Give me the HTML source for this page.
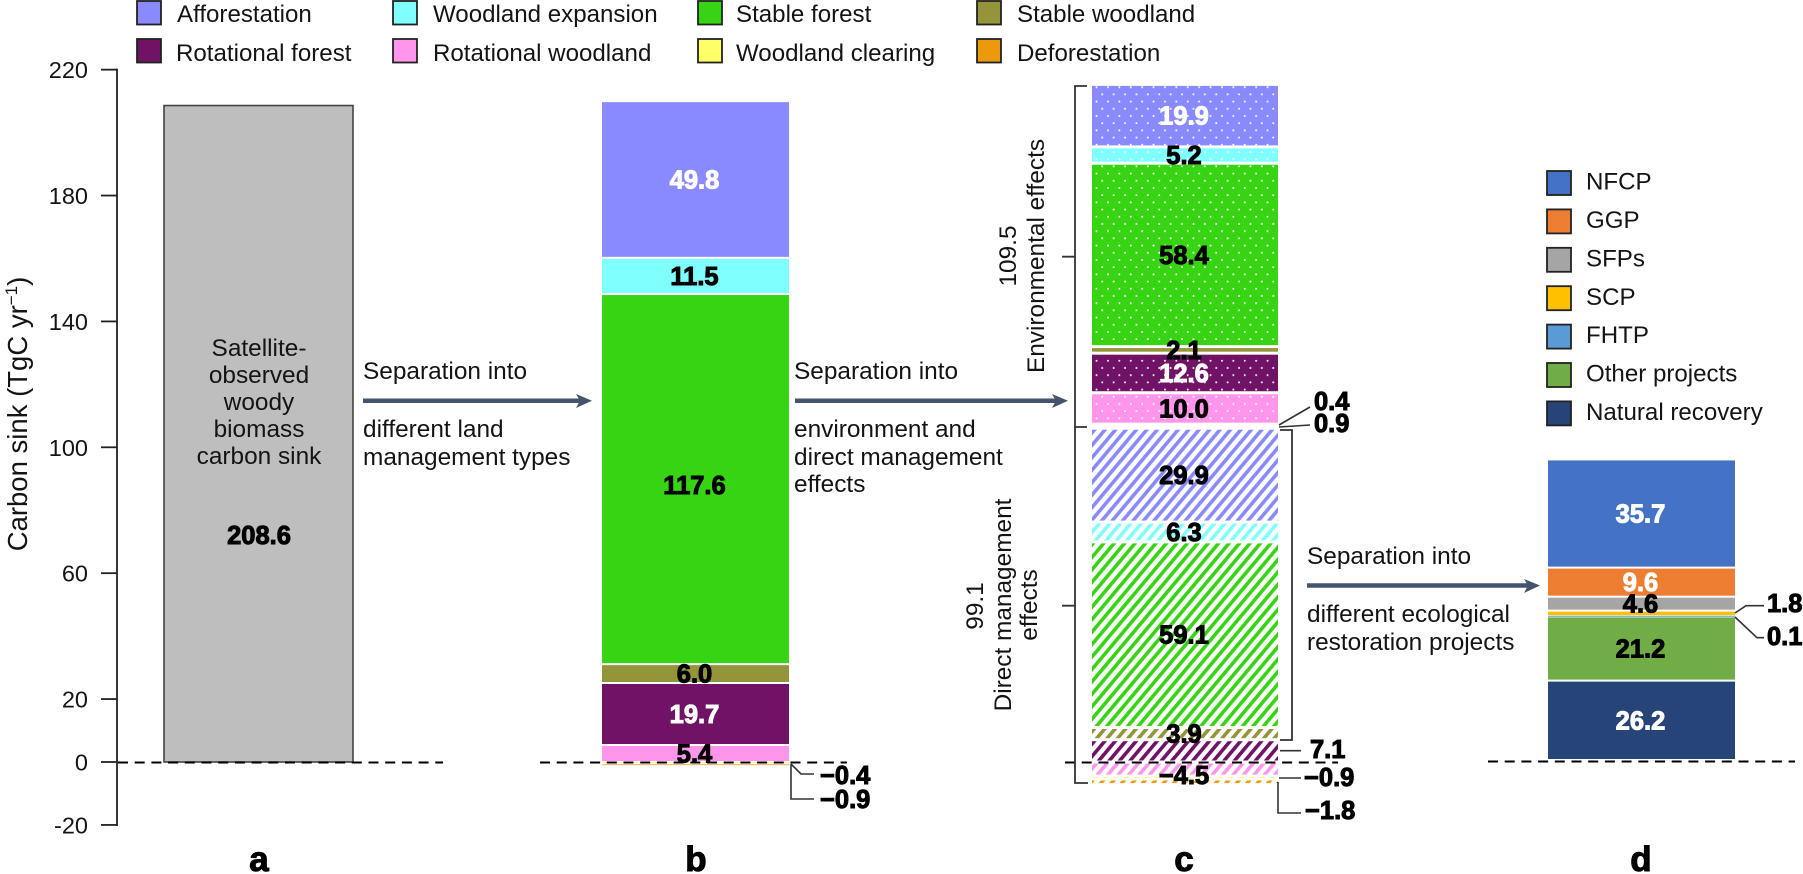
<!DOCTYPE html>
<html lang="en">
<head>
<meta charset="utf-8">
<title>Carbon sink separation chart</title>
<style>
html,body{margin:0;padding:0;background:#fff;width:1803px;height:874px;overflow:hidden}
svg{display:block;font-family:"Liberation Sans",sans-serif;fill:#141414;font-size:24.4px}
.leg{font-size:24.1px}
.tick{font-size:23.5px}
.ytitle{font-size:27.5px}
.val{font-weight:700;font-size:25.5px;stroke-width:1px;paint-order:stroke}
.panel{font-weight:700;font-size:35px;stroke:#000;stroke-width:1px;fill:#000}
.lead{fill:none;stroke:#333;stroke-width:1.6}
.sw{stroke:#222;stroke-width:1.8}
.arrow-line{stroke:#44546a;stroke-width:4.5}
.arrow-head{fill:#44546a}
.brk{fill:none;stroke:#333;stroke-width:1.8}
</style>
</head>
<body>
<svg id="chart" xmlns="http://www.w3.org/2000/svg" width="1803" height="874" viewBox="0 0 1803 874">
  <defs id="defs"></defs>

  <g class="leg">
    <g><rect class="sw" x="137" y="1" width="24" height="23.5" fill="#8a8aff"/><text x="177" y="22">Afforestation</text></g>
    <g><rect class="sw" x="137" y="39" width="24" height="23.5" fill="#701266"/><text x="176" y="61">Rotational forest</text></g>
    <g><rect class="sw" x="393" y="1" width="24" height="23.5" fill="#80ffff"/><text x="433" y="22">Woodland expansion</text></g>
    <g><rect class="sw" x="393" y="39" width="24" height="23.5" fill="#ff96eb"/><text x="433" y="61">Rotational woodland</text></g>
    <g><rect class="sw" x="698" y="1" width="24" height="23.5" fill="#37d414"/><text x="736" y="22">Stable forest</text></g>
    <g><rect class="sw" x="698" y="39" width="24" height="23.5" fill="#ffff66"/><text x="736" y="61">Woodland clearing</text></g>
    <g><rect class="sw" x="977" y="1" width="24" height="23.5" fill="#94943a"/><text x="1017" y="22">Stable woodland</text></g>
    <g><rect class="sw" x="977" y="39" width="24" height="23.5" fill="#ea9a0a"/><text x="1017" y="61">Deforestation</text></g>
  </g>

  <g class="leg">
    <g><rect class="sw" x="1547" y="171" width="24" height="24" fill="#4472c4"/><text x="1586" y="189.5">NFCP</text></g>
    <g><rect class="sw" x="1547" y="209.4" width="24" height="24" fill="#ed7d31"/><text x="1586" y="228">GGP</text></g>
    <g><rect class="sw" x="1547" y="247.8" width="24" height="24" fill="#a5a5a5"/><text x="1586" y="266.5">SFPs</text></g>
    <g><rect class="sw" x="1547" y="286.2" width="24" height="24" fill="#ffc000"/><text x="1586" y="304.8">SCP</text></g>
    <g><rect class="sw" x="1547" y="324.6" width="24" height="24" fill="#5b9bd5"/><text x="1586" y="343.2">FHTP</text></g>
    <g><rect class="sw" x="1547" y="363" width="24" height="24" fill="#70ad47"/><text x="1586" y="381.6">Other projects</text></g>
    <g><rect class="sw" x="1547" y="401.4" width="24" height="24" fill="#264478"/><text x="1586" y="420">Natural recovery</text></g>
  </g>

  <text class="ytitle" transform="translate(27,414) rotate(-90)" text-anchor="middle">Carbon sink (TgC yr<tspan font-size="17" dy="-10">−1</tspan><tspan dy="10">)</tspan></text>
  <g id="axis" class="tick"></g>
  <g id="bars"></g>

  <g stroke="#000" stroke-width="2" stroke-dasharray="10 6.7" fill="none">
    <path d="M118 762.5H443"/>
    <path d="M540 762.5H847"/>
    <path d="M1065 762.5H1338"/>
    <path d="M1488 761.5H1795"/>
  </g>

  <g id="labels"></g>

  <g text-anchor="middle">
    <text x="259" y="356">Satellite-</text>
    <text x="259" y="383">observed</text>
    <text x="259" y="410">woody</text>
    <text x="259" y="437">biomass</text>
    <text x="259" y="464">carbon sink</text>
  </g>

  <g>
    <text x="363" y="379">Separation into</text>
    <path class="arrow-line" d="M363 400.7H582"/>
    <path class="arrow-head" d="M576 394L592 400.7L576 408L580 400.7Z"/>
    <text x="363" y="437">different land</text>
    <text x="363" y="465">management types</text>
  </g>
  <g>
    <text x="794" y="379">Separation into</text>
    <path class="arrow-line" d="M795 400.7H1058"/>
    <path class="arrow-head" d="M1052 394L1068 400.7L1052 408L1056 400.7Z"/>
    <text x="794" y="437">environment and</text>
    <text x="794" y="465">direct management</text>
    <text x="794" y="492">effects</text>
  </g>
  <g>
    <text x="1307" y="564">Separation into</text>
    <path class="arrow-line" d="M1307 585.5H1530"/>
    <path class="arrow-head" d="M1524 579L1540 585.5L1524 593L1528 585.5Z"/>
    <text x="1307" y="622">different ecological</text>
    <text x="1307" y="650">restoration projects</text>
  </g>

  <g>
    <path class="brk" d="M1087 86H1075V427H1087M1062 256.7H1075"/>
    <path class="brk" d="M1075 427V783H1088M1062 605.7H1075"/>
    <path class="brk" d="M1280 430H1292V740H1280"/>
    <text transform="translate(1016,256) rotate(-90)" text-anchor="middle">109.5</text>
    <text transform="translate(1044,256) rotate(-90)" text-anchor="middle">Environmental effects</text>
    <text transform="translate(983,606) rotate(-90)" text-anchor="middle">99.1</text>
    <text transform="translate(1011,605) rotate(-90)" text-anchor="middle">Direct management</text>
    <text transform="translate(1037,605) rotate(-90)" text-anchor="middle">effects</text>
  </g>

  <g>
    <path class="lead" d="M791 764L801 774H814M791 764V799H814"/>
    <path class="lead" d="M1279 425L1310 407M1279 427L1310 425"/>
    <path class="lead" d="M1280 750.7H1301M1279 778H1301M1278 782V813H1301"/>
    <path class="lead" d="M1735 613L1746 605.7H1764M1735 617L1757 637.7H1764"/>
  </g>

  <g>
    <text class="panel" x="259" y="871" text-anchor="middle">a</text>
    <text class="panel" x="696" y="871" text-anchor="middle">b</text>
    <text class="panel" x="1184" y="871" text-anchor="middle">c</text>
    <text class="panel" x="1641" y="871" text-anchor="middle">d</text>
  </g>
</svg>

<script>
const yTicks = [220, 180, 140, 100, 60, 20, 0, -20];

const barACategory = 'Satellite-observed sink';
const barAValue = 208.6;

const barBCategories = ['rotational-woodland', 'rotational-forest', 'stable-woodland', 'stable-forest', 'woodland-expansion', 'afforestation'];
const barBValues = [5.4, 19.7, 6.0, 117.6, 11.5, 49.8];
const barBNegCategories = ['woodland-clearing', 'deforestation'];
const barBNegValues = [-0.4, -0.9];

const directCategories = ['rotational-forest', 'stable-woodland', 'stable-forest', 'woodland-expansion', 'afforestation'];
const directValues = [7.1, 3.9, 59.1, 6.3, 29.9];
const directNegCategories = ['rotational-woodland', 'woodland-clearing', 'deforestation'];
const directNegValues = [-4.5, -0.9, -1.8];

const envCategories = ['deforestation', 'woodland-clearing', 'rotational-woodland', 'rotational-forest', 'stable-woodland', 'stable-forest', 'woodland-expansion', 'afforestation'];
const envValues = [0.9, 0.4, 10.0, 12.6, 2.1, 58.4, 5.2, 19.9];

const projectCategories = ['natural-recovery', 'other-projects', 'fhtp', 'scp', 'sfps', 'ggp', 'nfcp'];
const projectValues = [26.2, 21.2, 0.1, 1.8, 4.6, 9.6, 35.7];

const colours = {
  'afforestation': '#8a8aff', 'woodland-expansion': '#80ffff', 'stable-forest': '#37d414',
  'stable-woodland': '#94943a', 'rotational-forest': '#701266', 'rotational-woodland': '#ff96eb',
  'woodland-clearing': '#ffff66', 'deforestation': '#ea9a0a',
  'nfcp': '#4472c4', 'ggp': '#ed7d31', 'sfps': '#a5a5a5', 'scp': '#ffc000', 'fhtp': '#5b9bd5',
  'other-projects': '#70ad47', 'natural-recovery': '#264478'
};
const whiteText = ['afforestation', 'rotational-forest', 'nfcp', 'ggp', 'natural-recovery'];
const blackInPanel = ['c-direct'];

const NS = 'http://www.w3.org/2000/svg';
const yMain = v => 762 - v * 3.147;
const yC = v => 762 - v * 3.14;
const yD = v => 760 - v * 3.03;

function mk(tag, attrs, parent) {
  const el = document.createElementNS(NS, tag);
  for (const k in attrs) el.setAttribute(k, attrs[k]);
  parent.appendChild(el);
  return el;
}
const fmt = v => (v < 0 ? '−' : '') + Math.abs(v).toFixed(1);
const defs = document.getElementById('defs');
const axisG = document.getElementById('axis');
const barsG = document.getElementById('bars');
const labelsG = document.getElementById('labels');

['afforestation', 'woodland-expansion', 'stable-forest', 'stable-woodland', 'rotational-forest', 'rotational-woodland', 'woodland-clearing', 'deforestation'].forEach(c => {
  const dot = mk('pattern', { id: 'dot-' + c, patternUnits: 'userSpaceOnUse', x: 1095.7, y: 86.3, width: 11.4, height: 14.4 }, defs);
  
  
  mk('rect', { width: 11.4, height: 14.4, fill: colours[c] }, dot);
  mk('rect', { x: 0, y: 0, width: 1.7, height: 1.7, fill: '#fff' }, dot);
  mk('rect', { x: 5.7, y: 7.2, width: 1.7, height: 1.7, fill: '#fff' }, dot);
  const hatch = mk('pattern', { id: 'hatch-' + c, patternUnits: 'userSpaceOnUse', width: 8, height: 8, patternTransform: 'translate(1092 430) rotate(40)' }, defs);
  
  
  mk('rect', { width: 8, height: 8, fill: '#fff' }, hatch);
  mk('rect', { width: 3.6, height: 8, fill: colours[c] }, hatch);
});

yTicks.forEach(t => {
  const line = mk('line', { x1: 101, x2: 117, y1: yMain(t), y2: yMain(t), stroke: '#222', 'stroke-width': 1.8 }, axisG);
  
  
  const label = mk('text', { x: 88, y: yMain(t) + 8.5, 'text-anchor': 'end' }, axisG);
  
  
  label.textContent = t < 0 ? '-' + Math.abs(t) : String(t);
});
const axisLine = mk('line', { x1: 117, x2: 117, y1: yMain(yTicks[0]) - 1, y2: yMain(yTicks[yTicks.length - 1]) + 1, stroke: '#222', 'stroke-width': 1.8 }, axisG);



const barA = mk('rect', { x: 164, y: yMain(barAValue), width: 189, height: yMain(0) - yMain(barAValue), fill: '#bebebe', stroke: '#444', 'stroke-width': 1.6 }, barsG);


const barATitle = mk('title', {}, barA);
barATitle.textContent = barACategory;
const barALabel = mk('text', { x: 259, y: 544, 'text-anchor': 'middle', class: 'val', stroke: '#000', fill: '#000' }, labelsG);


barALabel.textContent = barAValue.toFixed(1);

function drawStack(panel, cats, vals, x, w, yFn, start, fillFn, inset) {
  let acc = start;
  vals.forEach((v, i) => {
    const from = acc, to = acc + v;
    acc = to;
    const cat = cats[i];
    const top = yFn(Math.max(from, to)), bot = yFn(Math.min(from, to));
    let h = bot - top - 2 * inset;
    let y = top + inset;
    if (h < 1) { y = (top + bot) / 2 - 0.5; h = 1; }
    const r = mk('rect', { x: x, y: y, width: w, height: h, fill: fillFn(cat, v) }, barsG);
    
    
    if (Math.abs(v) >= 2 && !(panel === 'c-direct' && cat === 'rotational-forest')) {
      const col = (whiteText.includes(cat) && !blackInPanel.includes(panel)) ? '#fff' : '#000';
      const shift = v < 0 ? 6 : (v > 100 ? 6 : 0);
      const t = mk('text', { x: x + w / 2 - 1, y: (top + bot) / 2 + 9 + shift, 'text-anchor': 'middle', class: 'val', fill: col, stroke: col }, labelsG);
      
      
      t.textContent = fmt(v);
    }
  });
  return acc;
}
const solid = c => colours[c];
const dotted = c => 'url(#dot-' + c + ')';
const hatched = c => 'url(#hatch-' + c + ')';

drawStack('b', barBCategories, barBValues, 602, 187, yMain, 0, solid, 1);
drawStack('b', barBNegCategories, barBNegValues, 602, 187, yMain, 0, (c, v) => c === 'deforestation' ? '#eeb060' : colours[c], 1);

const directTop = drawStack('c-direct', directCategories, directValues, 1092, 186, yC, 0, hatched, 1.5);
drawStack('c-direct', directNegCategories, directNegValues, 1092, 186, yC, 0, hatched, 1.5);
drawStack('c-env', envCategories, envValues, 1092, 186, yC, directTop, (c, v) => v < 1 ? '#fff' : dotted(c), 1.5);

drawStack('d', projectCategories, projectValues, 1548, 187, yD, 0, solid, 1);

function sideLabel(name, value, x, y) {
  const t = mk('text', { x: x, y: y, class: 'val', fill: '#000', stroke: '#000' }, labelsG);
  
  
  t.textContent = fmt(value);
}
sideLabel('value-b-woodland-clearing', barBNegValues[0], 820, 784);
sideLabel('value-b-deforestation', barBNegValues[1], 820, 808);
sideLabel('value-c-env-woodland-clearing', envValues[1], 1314, 410);
sideLabel('value-c-env-deforestation', envValues[0], 1314, 432);
sideLabel('value-c-direct-rotational-forest', directValues[0], 1310, 758);
sideLabel('value-c-direct-woodland-clearing', directNegValues[1], 1304, 786);
sideLabel('value-c-direct-deforestation', directNegValues[2], 1305, 819);
sideLabel('value-d-scp', projectValues[3], 1767, 612);
sideLabel('value-d-fhtp', projectValues[2], 1767, 645);
</script>
</body>
</html>
